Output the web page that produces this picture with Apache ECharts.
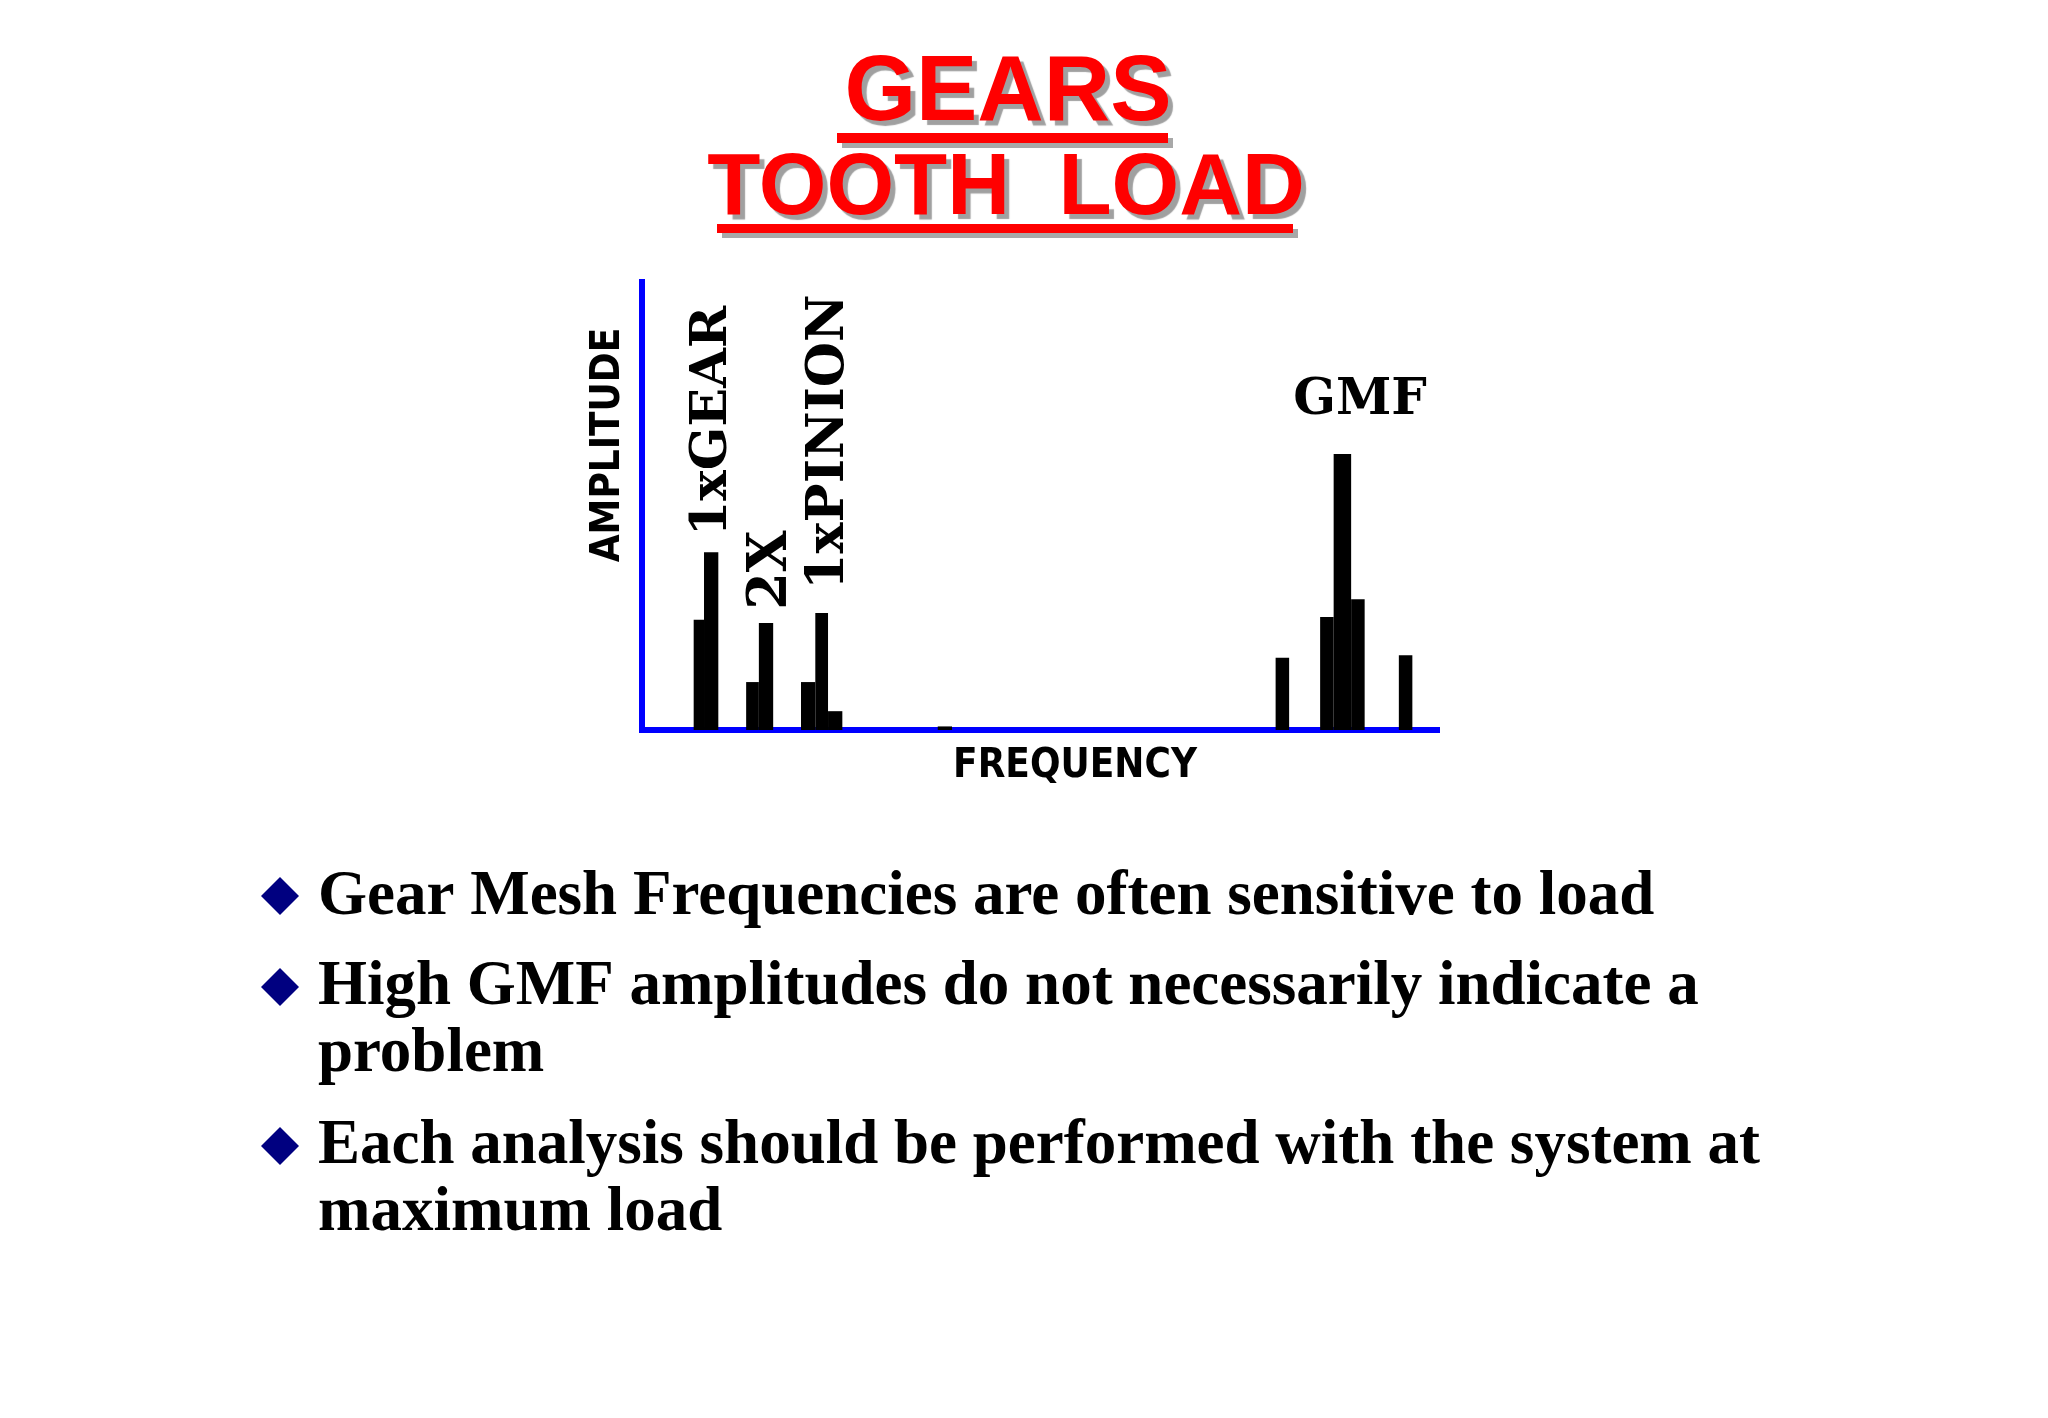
<!DOCTYPE html>
<html>
<head>
<meta charset="utf-8">
<script src="https://cdn.jsdelivr.net/npm/echarts@6/dist/echarts.min.js"></script>
<style>
html,body{margin:0;padding:0;background:#fff;}
#chart{width:2048px;height:1418px;}
</style>
</head>
<body>
<div id="chart"></div>
<script>
// ---- data (frequency and amplitude in arbitrary 0..100 chart units) ----
const titleLines = ['GEARS', 'TOOTH  LOAD'];
const binStart  = [6.5, 7.8, 13.1, 14.7, 20.0, 21.8, 23.4, 37.2, 79.7, 85.3, 87.0, 89.2, 95.2];
const binEnd    = [7.8, 9.6, 14.7, 16.5, 21.8, 23.4, 25.2, 39.0, 81.4, 87.0, 89.2, 90.9, 96.9];
const amplitude = [24.6, 39.7, 10.7, 23.9, 10.7, 26.1, 4.2, 0.8, 16.1, 25.2, 61.6, 29.2, 16.7];
const peakLabels = ['1xGEAR', '2X', '1xPINION', 'GMF'];
const axisNames = ['FREQUENCY', 'AMPLITUDE'];
const bullets = [
  ['Gear Mesh Frequencies are often sensitive to load'],
  ['High GMF amplitudes do not necessarily indicate a', 'problem'],
  ['Each analysis should be performed with the system at', 'maximum load']
];

const bars = binStart.map((s, i) => [s, binEnd[i], amplitude[i]]);

const chart = echarts.init(document.getElementById('chart'), null, {renderer: 'canvas'});

const pixLab = 'bold 40px "DejaVu Sans Condensed", "DejaVu Sans", sans-serif';
const bulletFont = 'bold 63px "Liberation Serif", "Times New Roman", serif';

const graphics = [];
// title underlines (shadow + red)
[[837, 133, 331, 10], [717, 224, 576, 9]].forEach(r => {
  graphics.push({type: 'rect', shape: {x: r[0] + 5, y: r[1] + 5, width: r[2], height: r[3]}, style: {fill: '#a8a8a8'}, z: 1});
  graphics.push({type: 'rect', shape: {x: r[0], y: r[1], width: r[2], height: r[3]}, style: {fill: '#ff0000'}, z: 2});
});
// axis names
graphics.push({type: 'text', x: 1075, y: 767, style: {text: axisNames[0], font: pixLab, fill: '#000', align: 'center', verticalAlign: 'middle'}});
graphics.push({type: 'text', x: 609, y: 445, rotation: Math.PI / 2, style: {text: axisNames[1], font: pixLab, fill: '#000', align: 'center', verticalAlign: 'middle'}});
// peak labels
const labPos = [[713, 421, 1, 51], [772, 570, 1, 54], [829, 442, 1, 52], [1360, 401, 0, 50]];
peakLabels.forEach((t, i) => {
  const p = labPos[i];
  graphics.push({type: 'text', x: p[0], y: p[1], rotation: p[2] ? Math.PI / 2 : 0,
    style: {text: t, font: 'bold ' + p[3] + 'px "DejaVu Serif", serif', fill: '#000', align: 'center', verticalAlign: 'middle'}});
});
// bullets
const bulletTop = [898, 988, 1147];
const diamondY = [896, 987, 1146];
bullets.forEach((lines, i) => {
  const cy = diamondY[i];
  graphics.push({type: 'polygon', shape: {points: [[280, cy - 19], [299, cy], [280, cy + 19], [261, cy]]}, style: {fill: '#000080'}});
  lines.forEach((ln, j) => {
    graphics.push({type: 'text', x: 318, y: bulletTop[i] + j * 67, style: {text: ln, font: bulletFont, fill: '#000', align: 'left', verticalAlign: 'middle'}});
  });
});

const titleStyle = (size) => ({fontFamily: '"Liberation Sans", Arial, sans-serif', fontWeight: 'bold', fontSize: size, color: '#ff0000',
  textShadowColor: '#a0a0a0', textShadowOffsetX: 5, textShadowOffsetY: 5, textShadowBlur: 1});

const option = {
  backgroundColor: '#ffffff',
  animation: false,
  title: [
    {text: titleLines[0], left: 1008, top: 49, textAlign: 'center', padding: 0, textStyle: titleStyle(92)},
    {text: titleLines[1], left: 1006, top: 147, textAlign: 'center', padding: 0, textStyle: titleStyle(87)}
  ],
  grid: {left: 642, right: 611, top: 282, bottom: 688, containLabel: false},
  xAxis: {type: 'value', min: 0, max: 100,
    axisLine: {show: true, onZero: false, lineStyle: {color: '#0000ff', width: 6, cap: 'square'}},
    axisTick: {show: false}, axisLabel: {show: false}, splitLine: {show: false}},
  yAxis: {type: 'value', min: 0, max: 100,
    axisLine: {show: true, onZero: false, lineStyle: {color: '#0000ff', width: 6, cap: 'square'}},
    axisTick: {show: false}, axisLabel: {show: false}, splitLine: {show: false}},
  series: [{
    type: 'custom',
    data: bars,
    encode: {x: [0, 1], y: 2},
    renderItem: function (params, api) {
      const p0 = api.coord([api.value(0), api.value(2)]);
      const p1 = api.coord([api.value(1), 0]);
      return {type: 'rect', shape: {x: p0[0], y: p0[1], width: p1[0] - p0[0], height: p1[1] - p0[1]}, style: {fill: '#000'}};
    },
    z: 1
  }],
  graphic: graphics
};
chart.setOption(option);
</script>
</body>
</html>
